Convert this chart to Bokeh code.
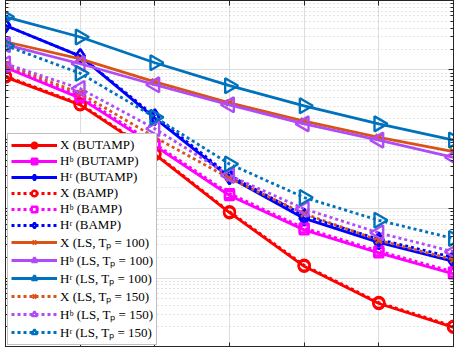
import math
from bokeh.plotting import figure
from bokeh.models import Range1d, FixedTicker, LinearAxis, LogAxis, CustomJSTickFormatter
from bokeh.embed import file_html
from bokeh.resources import INLINE

# ---- data (log-scale y) ----
x = [0, 5, 10, 15, 20, 25, 30]
x_butamp = [0.0788, 0.0314, 0.00605, 0.000876, 0.000148, 4.31e-5, 1.95e-5]
hb_butamp = [0.1081, 0.0392, 0.00804, 0.00155, 0.000495, 0.000231, 0.000115]
hr_butamp = [0.436, 0.1581, 0.0202, 0.00283, 0.000724, 0.000328, 0.000174]
x_bamp = [0.0813, 0.0324, 0.00624, 0.000904, 0.000153, 4.45e-5, 2.02e-5]
hb_bamp = [0.1116, 0.0418, 0.00857, 0.00165, 0.000527, 0.000246, 0.000123]
hr_bamp = [0.436, 0.1581, 0.0215, 0.00301, 0.000796, 0.000361, 0.000198]
x_ls100 = [0.2544, 0.1438, 0.0672, 0.0335, 0.0183, 0.0107, 0.00665]
hb_ls100 = [0.2313, 0.1227, 0.0611, 0.0314, 0.0167, 0.00973, 0.00550]
hr_ls100 = [0.580, 0.298, 0.1267, 0.0592, 0.0304, 0.0167, 0.00973]
x_ls150 = [0.1189, 0.0460, 0.0107, 0.00274, 0.000848, 0.000349, 0.000185]
hb_ls150 = [0.1227, 0.0538, 0.0142, 0.00301, 0.000994, 0.000450, 0.000239]
hr_ls150 = [0.2241, 0.0894, 0.0208, 0.00441, 0.00145, 0.000680, 0.000372]

labels = [
    "X (BUTAMP)", "Hᵇ (BUTAMP)", "Hʳ (BUTAMP)",
    "X (BAMP)", "Hᵇ (BAMP)", "Hʳ (BAMP)",
    "X (LS, Tₚ = 100)", "Hᵇ (LS, Tₚ = 100)", "Hʳ (LS, Tₚ = 100)",
    "X (LS, Tₚ = 150)", "Hᵇ (LS, Tₚ = 150)", "Hʳ (LS, Tₚ = 150)",
]
series = [x_butamp, hb_butamp, hr_butamp, x_bamp, hb_bamp, hr_bamp,
          x_ls100, hb_ls100, hr_ls100, x_ls150, hb_ls150, hr_ls150]

RED, MAG, BLU = "#ff0000", "#ff00ff", "#0000ff"
ORA, PUR, STB = "#d95319", "#b04cf5", "#0072bd"
styles = [
    (RED, "solid", "circle", 11, 0), (MAG, "solid", "square", 9, 0), (BLU, "solid", "diamond", 14, 0),
    (RED, "3 3", "circle", 11, 0), (MAG, "3 3", "square", 9, 0), (BLU, "3 3", "diamond", 14, 0),
    (ORA, "solid", "x", 9, 0), (PUR, "solid", "triangle", 15, math.pi / 2), (STB, "solid", "triangle", 15, -math.pi / 2),
    (ORA, "3 3", "x", 9, 0), (PUR, "3 3", "triangle", 15, math.pi / 2), (STB, "3 3", "triangle", 15, -math.pi / 2),
]

p = figure(width=458, height=347, y_axis_type="log",
           x_range=Range1d(0, 30), y_range=Range1d(1e-5, 1),
           output_backend="svg", toolbar_location=None,
           min_border_left=5, min_border_right=5, min_border_top=0, min_border_bottom=0,
           background_fill_color="white", outline_line_color="#262626")

majors = [1e-5, 1e-4, 1e-3, 1e-2, 1e-1, 1]
minors = [k * 10.0 ** d for d in range(-5, 0) for k in range(2, 10)]
yt = FixedTicker(ticks=majors, minor_ticks=minors)
xt = FixedTicker(ticks=x, minor_ticks=[])
blank = CustomJSTickFormatter(code="return '';")

p.add_layout(LinearAxis(), "above")
p.add_layout(LogAxis(), "right")
for ax in p.xaxis + p.yaxis:
    ax.formatter = blank
    ax.major_label_text_font_size = "1px"
    ax.major_label_standoff = 0
    ax.major_tick_in = 5
    ax.major_tick_out = 0
    ax.minor_tick_in = 3
    ax.minor_tick_out = 0
    ax.axis_line_color = "#262626"
    ax.major_tick_line_color = "#262626"
    ax.minor_tick_line_color = "#262626"
for ax in p.xaxis:
    ax.ticker = xt
for ax in p.yaxis:
    ax.ticker = yt

p.xgrid.ticker = xt
p.ygrid.ticker = yt
p.xgrid.grid_line_color = "#dedede"
p.ygrid.grid_line_color = "#dedede"
p.ygrid.minor_grid_line_color = "#c8c8c8"
p.ygrid.minor_grid_line_dash = "1 3"

for lab, ys, (col, dash, mk, sz, ang) in zip(labels, series, styles):
    p.line(x, ys, line_color=col, line_width=2.8, line_dash=dash, legend_label=lab)
    p.scatter(x, ys, marker=mk, size=sz, angle=ang, line_color=col, line_width=2.4,
              fill_alpha=0, legend_label=lab)

lg = p.legend[0]
lg.location = "bottom_left"
lg.margin = 2
lg.padding = 3
lg.spacing = 0
lg.glyph_width = 46
lg.glyph_height = 14
lg.label_height = 14
lg.label_standoff = 3
lg.label_text_font = "Liberation Serif"
lg.label_text_font_size = "13px"
lg.label_text_color = "black"
lg.border_line_color = "#808080"
lg.border_line_width = 1
lg.background_fill_alpha = 1

open("out.html", "w").write(file_html(p, INLINE))
